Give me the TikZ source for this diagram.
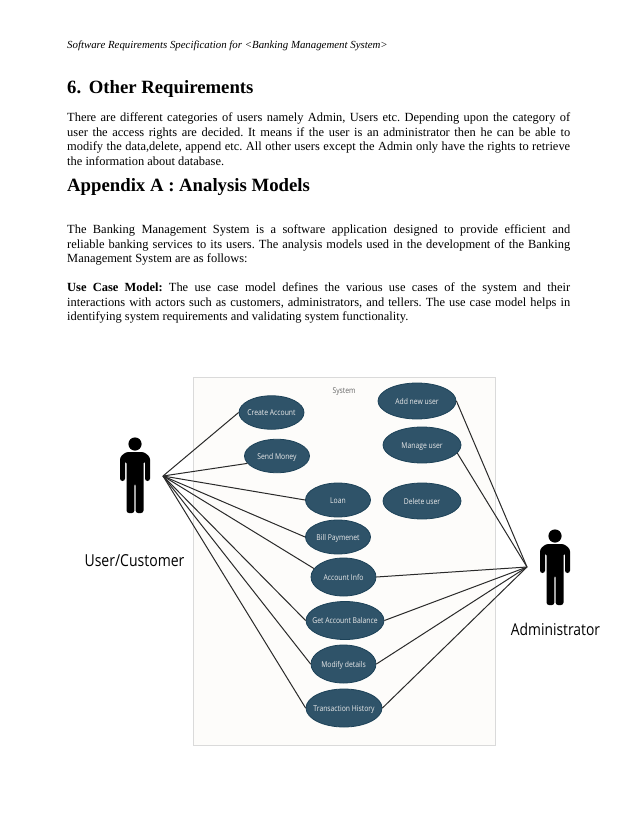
\documentclass[tikz,border=0pt]{standalone}
\usepackage{fontspec}
\usepackage{xcolor}
\setmainfont{Liberation Serif}
\newfontfamily\figfont[FakeStretch=0.85]{Open Sans}
\usetikzlibrary{shapes.geometric}
\definecolor{ucfill}{HTML}{2F5369}
\definecolor{ucedge}{HTML}{1D4258}
\definecolor{boxfill}{HTML}{FDFCFA}
\definecolor{boxedge}{HTML}{DADADA}
\definecolor{wirecol}{HTML}{2A2A2A}
\newcommand{\uclab}[1]{\makebox[0pt]{\smash{\raisebox{-3.2pt}{#1}}}}
\begin{document}
\frenchspacing
\begin{tikzpicture}[x=1pt, y=-1pt,
  uc/.style={ellipse, draw=ucedge, fill=ucfill, line width=0.8pt, inner sep=0pt,
              text=white!92!black, font=\figfont\fontsize{8}{9}\selectfont},
  para/.style={anchor=north west, text width=503pt, align=justify, inner sep=0pt,
               font=\fontsize{12.45}{14.35}\selectfont},
  head/.style={anchor=base west, inner sep=0pt, font=\fontsize{18.75}{24}\selectfont\bfseries},
  actor/.style={anchor=base, inner sep=0pt},
  wire/.style={draw=wirecol, line width=1pt},
  person/.pic={
    \fill (0,-7) circle (6.6);
    \fill[rounded corners=2.5pt] (-15,30) -- (-15,6) -- (-9,1) -- (9,1) -- (15,6) -- (15,30) -- (10,30)
      -- (10,10) -- (8.5,10) -- (8.5,62) -- (0.6,62) -- (0.6,32) -- (-0.6,32) -- (-0.6,62) -- (-8.5,62)
      -- (-8.5,10) -- (-10,10) -- (-10,30) -- cycle;
  }]
\useasboundingbox (0,0) rectangle (638,826);
% page text
\node[anchor=base west, inner sep=0pt, font=\fontsize{10.85}{14}\selectfont\itshape] (hdr) at (67,49) {Software Requirements Specification for <Banking Management System>};
\node[head] (sec) at (67,94) {6.\hspace{7.5pt}Other Requirements};
\node[para] (p1) at (67,113) {There are different categories of users namely Admin, Users etc. Depending upon the category of\linebreak
  user the access rights are decided. It means if the user is an administrator then he can be able to\linebreak
  modify the data,delete, append etc. All other users except the Admin only have the rights to retrieve\linebreak
  the information about database.};
\node[head] (app) at (67,192) {Appendix A : Analysis Models};
\node[para] (p2) at (67,225) {The Banking Management System is a software application designed to provide efficient and\linebreak
  reliable banking services to its users. The analysis models used in the development of the Banking\linebreak
  Management System are as follows:};
\node[para] (p3) at (67,283) {\textbf{Use Case Model:} The use case model defines the various use cases of the system and their\linebreak
  interactions with actors such as customers, administrators, and tellers. The use case model helps in\linebreak
  identifying system requirements and validating system functionality.};
% system box
\node[draw=boxedge, fill=boxfill, line width=1pt, minimum width=302pt, minimum height=368pt, inner sep=0pt] (sys) at (344,561) {};
\node[font=\figfont\fontsize{8}{9}\selectfont, text=black!60] (syslbl) at (344,391.5) {System};
% use cases
\node[uc, minimum width=65pt, minimum height=33.5pt] (create) at (271.5,412.5) {\uclab{Create Account}};
\node[uc, minimum width=65pt, minimum height=33.5pt] (send) at (277,456) {\uclab{Send Money}};
\node[uc, minimum width=65pt, minimum height=34pt] (loan) at (338,500) {\uclab{Loan}};
\node[uc, minimum width=65pt, minimum height=34pt] (bill) at (338,537) {\uclab{Bill Paymenet}};
\node[uc, minimum width=65pt, minimum height=38pt] (info) at (343.5,577) {\uclab{Account Info}};
\node[uc, minimum width=78pt, minimum height=38pt] (bal) at (345,620.5) {\uclab{Get Account Balance}};
\node[uc, minimum width=65pt, minimum height=38pt] (modify) at (343.5,664) {\uclab{Modify details}};
\node[uc, minimum width=76pt, minimum height=38pt] (hist) at (344,708) {\uclab{Transaction History}};
\node[uc, minimum width=78pt, minimum height=36pt] (addu) at (417,401) {\uclab{Add new user}};
\node[uc, minimum width=78pt, minimum height=36pt] (mgr) at (422,445) {\uclab{Manage user}};
\node[uc, minimum width=78pt, minimum height=36pt] (del) at (422,501) {\uclab{Delete user}};
% actors
\pic at (135,451) {person};
\pic at (555,543) {person};
\node[actor, font=\figfont\fontsize{16.5}{20}\selectfont] (cust) at (134.5,566) {User/Customer};
\node[actor, font=\figfont\fontsize{16.3}{18}\selectfont] (admin) at (555.5,635) {Administrator};
\coordinate (hubc) at (163,476);
\coordinate (huba) at (527,567);
% links
\foreach \uc in {create.west,send.194,loan.west,bill.west,info.164,bal.west,modify.west,hist.west}
  \draw[wire] (hubc) -- (\uc);
\foreach \uc in {addu.east,mgr.-13,info.east,bal.east,modify.east,hist.east}
  \draw[wire] (huba) -- (\uc);
\end{tikzpicture}
\end{document}
